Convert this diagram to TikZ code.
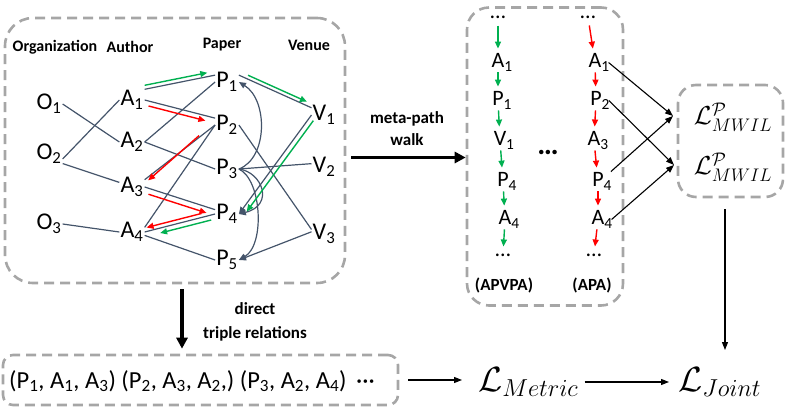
\RequirePackage{fix-cm}
\documentclass[tikz,border=0pt]{standalone}
\usepackage{fontspec}
\setmainfont{Carlito}
\usetikzlibrary{arrows.meta}
\definecolor{edgec}{RGB}{68,84,106}
\definecolor{boxc}{RGB}{166,166,166}
\definecolor{grn}{RGB}{0,176,80}
\definecolor{rd}{RGB}{255,0,0}
\newcommand\sbs[1]{\textsubscript{#1}}
\newcommand\rsbs[1]{\rlap{\textsubscript{#1}}}
\tikzset{
  dbox/.style={draw=boxc, line width=2.6pt, dash pattern=on 10pt off 6pt, rounded corners=#1, inner sep=0pt},
  dbox/.default=20pt,
  ent/.style={font=\fontsize{24}{26}\selectfont, inner sep=1pt},
  went/.style={font=\fontsize{22}{24}\selectfont, inner sep=1pt},
  hdr/.style={font=\fontsize{16}{18}\selectfont\bfseries, inner sep=0pt},
  clab/.style={font=\fontsize{17}{19}\selectfont\bfseries, inner sep=0pt},
  lbl/.style={font=\fontsize{17}{22}\selectfont\bfseries, align=center, inner sep=0pt},
  mth/.style={font=\fontsize{26}{28}\selectfont, inner sep=0pt},
  bmth/.style={font=\fontsize{35}{37}\selectfont, inner sep=1pt},
  lnk/.style={draw=edgec, line width=1.2pt},
  lnka/.style={lnk, -{Triangle[length=7pt,width=6pt]}},
  garr/.style={draw=grn, line width=1.4pt, -{Triangle[length=7pt,width=6pt]}},
  rarr/.style={draw=rd, line width=1.4pt, -{Triangle[length=7pt,width=6pt]}},
  barr/.style={draw=black, line width=1.1pt, -{Triangle[length=8pt,width=6pt]}},
  bigarr/.style={draw=black, line width=3.4pt, -{Triangle[length=11pt,width=11pt]}},
}
\begin{document}
\begin{tikzpicture}[x=1pt,y=-1pt]
\useasboundingbox (0,0) rectangle (787,408);
% dashed boxes
\node[dbox=28pt, minimum width=340pt, minimum height=265pt] (lbox) at (175,150.5) {};
\node[dbox=22pt, minimum width=156pt, minimum height=298pt] (mbox) at (545,156.5) {};
\node[dbox=18pt, minimum width=105pt, minimum height=112pt] (rbox) at (730.5,141) {};
\node[dbox=10pt, minimum width=395pt, minimum height=50pt] (tbox) at (200.5,380) {};
% headers
\node[hdr] (hO) at (55,47) {Organization};
\node[hdr] (hA) at (130,47) {Author};
\node[hdr] (hP) at (222,45) {Paper};
\node[hdr] (hV) at (309,45) {Venue};
% entities
\node[ent] (O1) at (49,104) {O\sbs1};
\node[ent] (O2) at (49,154) {O\sbs2};
\node[ent] (O3) at (49,224) {O\sbs3};
\node[ent] (A1) at (132,100) {A\sbs1};
\node[ent] (A2) at (132,142) {A\sbs2};
\node[ent] (A3) at (132,187) {A\sbs3};
\node[ent] (A4) at (132,232) {A\sbs4};
\node[ent] (P1) at (227,82) {P\sbs1};
\node[ent] (P2) at (227,125) {P\sbs2};
\node[ent] (P3) at (227,169) {P\sbs3};
\node[ent] (P4) at (227,214) {P\sbs4};
\node[ent] (P5) at (227,260) {P\sbs5};
\node[ent] (V1) at (324,115) {V\sbs1};
\node[ent] (V2) at (324,167) {V\sbs2};
\node[ent] (V3) at (324,234) {V\sbs3};
% gray links
\draw[lnk] (O1.east) -- (A2.west);
\draw[lnk] (O2.-20) -- (A1.west);
\draw[lnk] (O2.-35) -- (A3.160);
\draw[lnk] (O3.east) -- (A4.west);
\draw[lnk] (A1.north east) -- (P1.150);
\draw[lnk] (A1.east) -- (P2.150);
\draw[lnk] (A2.east) -- (P1.west);
\draw[lnk] (A2.east) -- (P3.west);
\draw[lnk] (A3.30) -- (P2.west);
\draw[lnk] (A4.20) -- (P2.west);
\draw[lnk] (A3.east) -- (P4.160);
\draw[lnk] (A4.east) -- (P4.west);
\draw[lnk] (A4.-15) -- (P5.west);
\draw[lnk] (P1.30) -- (V1.150);
\draw[lnk] (P2.east) -- (V3.160);
\draw[lnk] (P3.east) -- (V2.165);
\draw[lnka] (V1.west) -- (P4.east);
\draw[lnka] (V3.170) -- (P5.east);
\draw[lnka] (P3.east) .. controls (268,158) and (268,100) .. (P1.east);
\draw[lnka] (P3.east) .. controls (262,172) and (275,205) .. (P4.east);
\draw[lnka] (P3.east) .. controls (262,180) and (265,245) .. (P5.east);
% coloured walks
\draw[garr, transform canvas={yshift=4pt}, shorten >=8pt] (A1.north east) -- (P1.150);
\draw[rarr, transform canvas={yshift=-5pt}, shorten <=4pt, shorten >=10pt] (A1.east) -- (P2.150);
\draw[rarr, transform canvas={xshift=-4pt}, shorten <=16pt, shorten >=10pt] (P2.west) -- (A3.east);
\draw[rarr, transform canvas={yshift=-6pt}, shorten <=4pt, shorten >=9pt] (A3.east) -- (P4.160);
\draw[rarr, transform canvas={yshift=4pt}, shorten <=14pt, shorten >=2pt] (P4.west) -- (A4.east);
\draw[garr, transform canvas={yshift=-5pt}, shorten <=4pt, shorten >=16pt] (P4.west) -- (A4.east);
\draw[garr, transform canvas={yshift=4pt}, shorten <=10pt, shorten >=5pt] (P1.30) -- (V1.150);
\draw[garr, transform canvas={xshift=6pt}, shorten <=7pt, shorten >=3pt] (V1.west) -- (P4.east);
% meta-path walk
\draw[bigarr, shorten <=5pt] ([yshift=-7pt]lbox.east) -- ([yshift=-7pt]lbox.east -| mbox.west);
\node[lbl] (mpw) at (407,129) {meta-path\\walk};
% walk columns
\node[went] (c1d1) at (498,17) {…};
\node[went] (c1a1) at (498,62.5) {A\rsbs1};
\node[went] (c1p1) at (498,100.5) {P\rsbs1};
\node[went] (c1v1) at (500,140.5) {V\rsbs1};
\node[went] (c1p4) at (503,181.5) {P\rsbs4};
\node[went] (c1a4) at (505,219.5) {A\rsbs4};
\node[went] (c1d2) at (503,255) {…};
\node[clab] (c1lab) at (504,285) {(APVPA)};
\node[went] (c2d1) at (588,17) {…};
\node[went] (c2a1) at (595,62.5) {A\rsbs1};
\node[went] (c2p2) at (596,100.5) {P\rsbs2};
\node[went] (c2a3) at (594,140.5) {A\rsbs3};
\node[went] (c2p4) at (598,181.5) {P\rsbs4};
\node[went] (c2a4) at (598,219.5) {A\rsbs4};
\node[went] (c2d2) at (594,255) {…};
\node[clab] (c2lab) at (592,285) {(APA)};
\node[font=\fontsize{30}{30}\selectfont\bfseries] (mdots) at (548,152) {…};
\draw[garr, shorten <=6pt, shorten >=4pt] (c1d1) -- (c1a1);
\draw[garr, shorten >=4pt] (c1a1) -- (c1p1);
\draw[garr, shorten >=4pt] (c1p1) -- (c1v1);
\draw[garr, shorten >=4pt] (c1v1) -- (c1p4);
\draw[garr, shorten >=4pt] (c1p4) -- (c1a4);
\draw[garr, shorten >=6pt] (c1a4) -- (c1d2);
\draw[rarr, shorten <=6pt, shorten >=4pt] (c2d1) -- (c2a1);
\draw[rarr, shorten >=4pt] (c2a1) -- (c2p2);
\draw[rarr, shorten >=4pt] (c2p2) -- (c2a3);
\draw[rarr, shorten >=4pt] (c2a3) -- (c2p4);
\draw[rarr, shorten >=4pt] (c2p4) -- (c2a4);
\draw[rarr, shorten >=6pt] (c2a4) -- (c2d2);
% MWIL losses
\node[mth] (mw1) at (733,117) {$\mathcal{L}^{\mathcal{P}}_{MWIL}$};
\node[mth] (mw2) at (733,167) {$\mathcal{L}^{\mathcal{P}}_{MWIL}$};
\coordinate (mwin1) at (673,116);
\coordinate (mwin2) at (674,165);
\draw[barr] ([xshift=6pt]c2a1.east) -- (mwin1);
\draw[barr] ([xshift=6pt]c2p2.east) -- (mwin2);
\draw[barr] ([xshift=6pt]c2p4.north east) -- (mwin1);
\draw[barr] ([xshift=6pt]c2a4.east) -- (mwin2);
% direct triples
\draw[bigarr, shorten <=5pt, shorten >=5pt] ([xshift=7pt]lbox.south) -- ([xshift=7pt]lbox.south |- tbox.north);
\node[lbl, font=\fontsize{17}{24}\selectfont\bfseries] (dtr) at (255,322) {direct\\triple relations};
\node[font=\fontsize{24.5}{26}\selectfont, inner sep=1pt, anchor=west] (trip) at (8,381) {(P\sbs1, A\sbs1, A\sbs3) (P\sbs2, A\sbs3, A\sbs2,) (P\sbs3, A\sbs2, A\sbs4) \,···};
% joint loss
\node[bmth, anchor=west] (metric) at (477,382) {$\mathcal{L}_{Metric}$};
\node[bmth, anchor=west] (joint) at (677,382) {$\mathcal{L}_{Joint}$};
\coordinate (jtip) at (725,350);
\draw[barr, shorten <=11pt] (rbox.south -| jtip) -- (jtip);
\draw[barr, shorten <=9pt, shorten >=15pt] (tbox.east) -- (tbox.east -| metric.west);
\draw[barr, shorten <=5pt, shorten >=8pt] (metric.east) -- (metric.east -| joint.west);
\end{tikzpicture}
\end{document}
